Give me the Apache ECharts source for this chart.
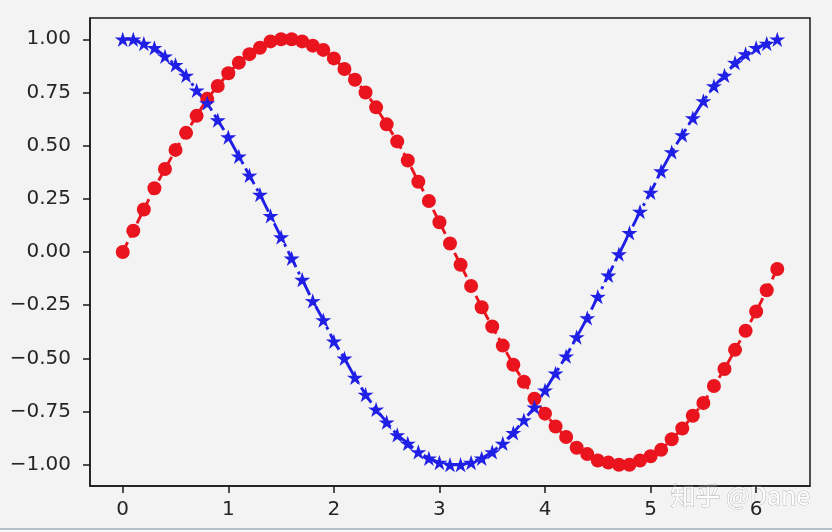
<!DOCTYPE html>
<html>
<head>
<meta charset="utf-8">
<script src="https://cdn.jsdelivr.net/npm/echarts@6/dist/echarts.min.js"></script>
<style>
  html, body { margin: 0; padding: 0; background: #f3f3f3; }
  #main { width: 832px; height: 532px; }
</style>
</head>
<body>
<div id="main"></div>
<script>
  // x 取值 0 ~ 6.2，步长 0.1
  var xs = [0, 0.1, 0.2, 0.3, 0.4, 0.5, 0.6, 0.7, 0.8, 0.9,
            1.0, 1.1, 1.2, 1.3, 1.4, 1.5, 1.6, 1.7, 1.8, 1.9,
            2.0, 2.1, 2.2, 2.3, 2.4, 2.5, 2.6, 2.7, 2.8, 2.9,
            3.0, 3.1, 3.2, 3.3, 3.4, 3.5, 3.6, 3.7, 3.8, 3.9,
            4.0, 4.1, 4.2, 4.3, 4.4, 4.5, 4.6, 4.7, 4.8, 4.9,
            5.0, 5.1, 5.2, 5.3, 5.4, 5.5, 5.6, 5.7, 5.8, 5.9,
            6.0, 6.1, 6.2]
  // 红色圆点（sin）
  var sinVals = [0.00, 0.10, 0.20, 0.30, 0.39, 0.48, 0.56, 0.64, 0.72, 0.78,
                 0.84, 0.89, 0.93, 0.96, 0.99, 1.00, 1.00, 0.99, 0.97, 0.95,
                 0.91, 0.86, 0.81, 0.75, 0.68, 0.60, 0.52, 0.43, 0.33, 0.24,
                 0.14, 0.04, -0.06, -0.16, -0.26, -0.35, -0.44, -0.53, -0.61, -0.69,
                 -0.76, -0.82, -0.87, -0.92, -0.95, -0.98, -0.99, -1.00, -1.00, -0.98,
                 -0.96, -0.93, -0.88, -0.83, -0.77, -0.71, -0.63, -0.55, -0.46, -0.37,
                 -0.28, -0.18, -0.08]
  // 蓝色星号（cos）
  var cosVals = [1.00, 1.00, 0.98, 0.96, 0.92, 0.88, 0.83, 0.76, 0.70, 0.62,
                 0.54, 0.45, 0.36, 0.27, 0.17, 0.07, -0.03, -0.13, -0.23, -0.32,
                 -0.42, -0.50, -0.59, -0.67, -0.74, -0.80, -0.86, -0.90, -0.94, -0.97,
                 -0.99, -1.00, -1.00, -0.99, -0.97, -0.94, -0.90, -0.85, -0.79, -0.73,
                 -0.65, -0.57, -0.49, -0.40, -0.31, -0.21, -0.11, -0.01, 0.09, 0.19,
                 0.28, 0.38, 0.47, 0.55, 0.63, 0.71, 0.78, 0.83, 0.89, 0.93,
                 0.96, 0.98, 1.00]
  var xTicks = [0, 1, 2, 3, 4, 5, 6]
  var yTicks = [-1.00, -0.75, -0.50, -0.25, 0.00, 0.25, 0.50, 0.75, 1.00]

  var sinData = [], cosData = []
  for (var i = 0; i < xs.length; i++) {
    sinData.push([xs[i], sinVals[i]])
    cosData.push([xs[i], cosVals[i]])
  }

  var star = 'path://M50 0L61.2 34.6L97.6 34.5L68 55.8L79.4 90.5L50 69L20.6 90.5L32 55.8L2.4 34.5L38.8 34.6Z'
  var labelFont = { color: '#262626', fontSize: 20, fontFamily: 'DejaVu Sans' }

  var myChart = echarts.init(document.getElementById('main'))
  myChart.setOption({
    backgroundColor: '#f3f3f3',
    animation: false,
    grid: {
      left: 90, top: 18, right: 22, bottom: 46,
      show: true,
      backgroundColor: 'transparent',
      borderColor: '#1a1a1a',
      borderWidth: 1.5
    },
    xAxis: {
      type: 'value',
      min: -0.31,
      max: 6.51,
      axisLine: { onZero: false, lineStyle: { color: '#1a1a1a', width: 1.5 } },
      axisTick: { customValues: xTicks, length: 7, lineStyle: { color: '#1a1a1a', width: 1.5 } },
      axisLabel: Object.assign({ customValues: xTicks, margin: 14 }, labelFont),
      splitLine: { show: false }
    },
    yAxis: {
      type: 'value',
      min: -1.1,
      max: 1.1,
      axisLine: { show: true, onZero: false, lineStyle: { color: '#1a1a1a', width: 1.5 } },
      axisTick: { show: true, customValues: yTicks, length: 7, lineStyle: { color: '#1a1a1a', width: 1.5 } },
      axisLabel: Object.assign({
        customValues: yTicks,
        margin: 19,
        formatter: function (v) { return v.toFixed(2).replace('-', '\u2212') }
      }, labelFont),
      splitLine: { show: false }
    },
    series: [
      {
        name: 'sin',
        type: 'line',
        data: sinData,
        symbol: 'circle',
        symbolSize: 14,
        itemStyle: { color: '#e9141d' },
        lineStyle: { color: '#e9141d', width: 2.9, type: [11, 5] }
      },
      {
        name: 'cos',
        type: 'line',
        data: cosData,
        symbol: star,
        symbolSize: 16,
        symbolKeepAspect: true,
        itemStyle: { color: '#1f1fe6' },
        lineStyle: { color: '#1f1fe6', width: 2.9, type: [18, 5, 3, 5] }
      }
    ],
    graphic: [
      {
        type: 'rect',
        left: 0, top: 528,
        shape: { width: 832, height: 2 },
        style: { fill: '#b4c0ca' }
      },
      {
        type: 'rect',
        left: 0, top: 530,
        shape: { width: 832, height: 2 },
        style: { fill: '#fafafa' }
      },
      {
        type: 'text',
        left: 670, top: 482,
        style: {
          text: '知乎 @Dane',
          font: '25px "Noto Sans CJK SC"',
          fill: '#ffffff',
          stroke: '#b8b8b8',
          lineWidth: 1
        }
      }
    ]
  })
</script>
</body>
</html>
